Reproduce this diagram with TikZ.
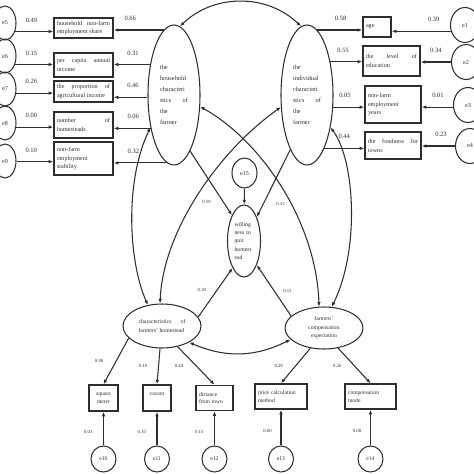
\documentclass[tikz,border=0pt]{standalone}
\usepackage{fontspec}
\setmainfont{Liberation Serif}
\usetikzlibrary{arrows.meta,shapes.geometric}
\definecolor{Ink}{HTML}{2E2E2E}
\hbadness=10000
\hyphenpenalty=10000

\begin{document}
\begin{tikzpicture}[x=0.02cm,y=-0.02cm,
    latent/.style={ellipse,draw=Ink,line width=0.6pt,inner sep=0pt,text=Ink},
    item/.style={rectangle,draw=Ink,line width=0.85pt,inner xsep=0.06cm,inner ysep=0pt,text=Ink,align=justify,font=\fontsize{3.5}{5}\selectfont},
    err/.style={ellipse,draw=Ink,line width=0.6pt,inner sep=0pt,text=Ink,font=\fontsize{3.5}{4}\selectfont},
    link/.style={draw=Ink,line width=0.6pt,-{Latex[length=2.6pt,width=2pt]}},
    twoway/.style={draw=Ink,line width=0.6pt,{Latex[length=2.6pt,width=2pt]}-{Latex[length=2.6pt,width=2pt]}},
    coef/.style={text=Ink,inner sep=0pt,font=\fontsize{3.7}{4}\selectfont},
    minor/.style={text=Ink,inner sep=0pt,font=\fontsize{2.7}{3}\selectfont}]
        \useasboundingbox (0,0) rectangle (474,474);

        % latent variables
        \node[latent,minimum width=1.04cm,minimum height=2.8cm,text width=0.56cm,align=justify,font=\fontsize{3.6}{6.2}\selectfont] (house) at (174,95) {the\linebreak household\linebreak characteri\linebreak stics of\linebreak the\linebreak farmer};
        \node[latent,minimum width=1.04cm,minimum height=2.8cm,text width=0.56cm,align=justify,font=\fontsize{3.6}{6.2}\selectfont] (indiv) at (307,95) {the\linebreak individual\linebreak characteri\linebreak stics of\linebreak the\linebreak farmer};
        \node[latent,minimum width=0.66cm,minimum height=1.44cm,text width=0.38cm,align=left,font=\fontsize{3.3}{4.7}\selectfont] (will) at (244,241) {willing\\ness to\\quit\\homest\\ead};
        \node[latent,minimum width=1.56cm,minimum height=0.88cm,text width=0.94cm,align=justify,font=\fontsize{3.3}{5}\selectfont] (home) at (162,326) {characteristics of\linebreak farmers' homestead};
        \node[latent,minimum width=1.56cm,minimum height=0.84cm,align=center,font=\fontsize{3.2}{4.8}\selectfont] (comp) at (324,328) {farmers'\\compensation\\expectation};

        % observed items
        \node[item,text width=1.06cm,minimum height=0.4cm] (hshare) at (83.5,28) {household non-farm\linebreak employment share};
        \node[item,text width=1.06cm,minimum height=0.48cm] (hincome) at (83.5,65) {per capita annual\linebreak income};
        \node[item,text width=1.06cm,minimum height=0.42cm] (hagri) at (83.5,91.5) {the proportion of\linebreak agricultural income};
        \node[item,text width=1.06cm,minimum height=0.52cm] (hbase) at (83.5,125) {number of\linebreak homesteads};
        \node[item,text width=1.06cm,minimum height=0.66cm] (hstab) at (83.5,158.5) {non-farm\linebreak employment\linebreak stability};
        \node[item,text width=0.44cm,minimum height=0.4cm,align=left] (iage) at (377,27) {age};
        \node[item,text width=1.02cm,minimum height=0.6cm] (iedu) at (391.5,61) {the level of\linebreak education};
        \node[item,text width=1.0cm,minimum height=0.74cm] (iyears) at (393,104.5) {non-farm\linebreak employment\linebreak years};
        \node[item,text width=1.0cm,minimum height=0.54cm] (itown) at (393,145.5) {the fondness for\linebreak towns};
        \node[item,text width=0.46cm,minimum height=0.52cm,align=center,font=\fontsize{3.2}{4.4}\selectfont] (hsize) at (103.5,398) {square\\meter};
        \node[item,text width=0.44cm,minimum height=0.52cm,align=center,font=\fontsize{3.2}{4.4}\selectfont] (hvacant) at (157,398) {vacant\\~};
        \node[item,text width=0.62cm,minimum height=0.5cm,align=left,font=\fontsize{3.2}{4.4}\selectfont] (hdist) at (214.5,398) {distance\\from town};
        \node[item,text width=0.92cm,minimum height=0.5cm,align=left,font=\fontsize{3.2}{4.4}\selectfont] (cprice) at (281,396.5) {price calculation\\method};
        \node[item,text width=0.9cm,minimum height=0.5cm,align=left,font=\fontsize{3.2}{4.4}\selectfont] (cmode) at (370.5,396.5) {compensation\\mode};

        % error terms
        \foreach \n/\y in {e5/23,e6/56,e7/89,e8/123,e9/161}
          \node[err,minimum width=0.44cm,minimum height=0.68cm] (\n) at (5,\y) {\n};
        \foreach \n/\x/\y in {e1/465/25,e2/466/62,e3/468/105,e4/470/146}
          \node[err,minimum width=0.58cm,minimum height=0.7cm] (\n) at (\x,\y) {\n};
        \foreach \n/\x in {e10/103.5,e11/157,e12/214.5,e13/281,e14/370.5}
          \node[err,minimum width=0.5cm,minimum height=0.52cm,font=\fontsize{3.2}{4}\selectfont] (\n) at (\x,459) {\n};
        \node[err,minimum width=0.5cm,minimum height=0.6cm] (e15) at (244.5,173) {e15};

        % loadings, left block
        \draw[link] (e5.-40) -- node[coef,above=5pt,pos=.43] (le5) {0.49} (e5.-40 -| hshare.west);
        \draw[link] (e6.-40) -- node[coef,above=5pt,pos=.43] (le6) {0.15} (e6.-40 -| hincome.west);
        \draw[link] (e7.-20) -- node[coef,above=5pt,pos=.41] (le7) {0.26} (e7.-20 -| hagri.west);
        \draw[link] (e8.-20) -- node[coef,above=5pt,pos=.41] (le8) {0.00} (e8.-20 -| hbase.west);
        \draw[link] (e9.-3) -- node[coef,above=5pt,pos=.4] (le9) {0.10} (e9.-3 -| hstab.west);
        \draw[link] (house.99) -- node[coef,above=5pt,pos=.67] (lh1) {0.66} (house.99 -| hshare.east);
        \draw[link] (house.128) -- node[coef,above=5pt,pos=.47] (lh2) {0.31} (house.128 -| hincome.east);
        \draw[link] (house.185) -- node[coef,above=5pt,pos=.43] (lh3) {0.46} (house.185 -| hagri.east);
        \draw[link] (house.235) -- node[coef,above=5pt,pos=.47] (lh4) {0.06} (house.235 -| hbase.east);
        \draw[link] (house.264) -- node[coef,above=5pt,pos=.63] (lh5) {0.32} (house.264 -| hstab.east);

        % loadings, right block
        \draw[link] (indiv.81) -- node[coef,above=5pt,pos=.52] (li1) {0.58} (indiv.81 -| iage.west);
        \draw[link] (indiv.55) -- node[coef,above=5pt,pos=.4] (li2) {0.55} (indiv.55 -| iedu.west);
        \draw[link] (indiv.335) -- node[coef,above=5pt,pos=.38] (li3) {0.05} (indiv.335 -| iyears.west);
        \draw[link] (indiv.288) -- node[coef,above=5pt,pos=.5] (li4) {0.44} (indiv.288 -| itown.west);
        \draw[link] (e1.204) -- node[coef,above=5pt,pos=.29] (le1) {0.39} (e1.204 -| iage.east);
        \draw[link] (e2.west) -- node[coef,above=5pt,pos=.5] (le2) {0.34} (e2.west -| iedu.east);
        \draw[link] (e3.188) -- node[coef,above=5pt,pos=.48] (le3) {0.01} (e3.188 -| iyears.east);
        \draw[link] (e4.west) -- node[coef,above=5pt,pos=.42] (le4) {0.23} (e4.west -| itown.east);

        % loadings, bottom block
        \draw[link] (home.200) -- node[minor,left=7pt] (lb1) {0.06} (hsize.north);
        \draw[link] (home.265) -- node[minor,left=6pt] (lb2) {0.10} (hvacant.north);
        \draw[link] (home.307) -- node[minor,left=7pt] (lb3) {0.44} (hdist.north);
        \draw[link] (comp.236) -- node[minor,left=7pt] (lb4) {0.29} (cprice.north);
        \draw[link] (comp.305) -- node[minor,left=7pt] (lb5) {0.26} (cmode.north);
        \draw[link] (e10) -- node[minor,left=6pt,pos=.4] (le10) {0.03} (hsize);
        \draw[link] (e11) -- node[minor,left=6pt,pos=.4] (le11) {0.10} (hvacant);
        \draw[link] (e12) -- node[minor,left=6pt,pos=.4] (le12) {0.15} (hdist);
        \draw[link] (e13) -- node[minor,left=5pt,pos=.4] (le13) {0.00} (cprice);
        \draw[link] (e14) -- node[minor,left=5pt,pos=.4] (le14) {0.08} (cmode);

        % paths to willingness
        \draw[link] (e15) -- (will);
        \draw[link] (house.286) -- node[minor,left=7pt,pos=.8] (l59) {0.59} (will.115);
        \draw[link] (indiv.253) -- node[minor,right=7pt,pos=.8] (l33) {0.33} (will.62);
        \draw[link] (home.14) -- node[minor,left=6pt,pos=.55] (l30) {0.30} (will.247);
        \draw[link] (comp.160) -- node[minor,right=5pt,pos=.5] (l12) {0.12} (will.298);

        % covariances
        \draw[twoway] (house.85) to[bend left=44] (indiv.95);
        \draw[twoway] (home.329) to[bend right=25] (comp.199);
        \draw[twoway] (house.234) .. controls (125,180) and (128,260) .. (home.124);
        \draw[twoway] (home.95) .. controls (163,230) and (220,150) .. (indiv.205);
        \draw[twoway] (house.336) .. controls (260,140) and (316,220) .. (comp.103);
        \draw[twoway] (indiv.306) .. controls (355,160) and (360,250) .. (comp.70);
      \end{tikzpicture}
\end{document}
